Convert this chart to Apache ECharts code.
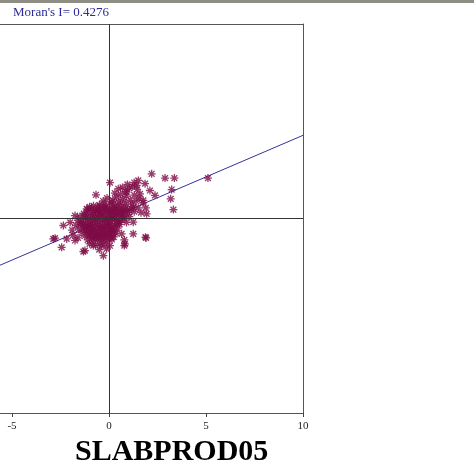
<!DOCTYPE html>
<html>
<head>
<meta charset="utf-8">
<script src="https://cdn.jsdelivr.net/npm/echarts@6/dist/echarts.min.js"></script>
<style>html,body{margin:0;padding:0;background:#fff}#c{width:474px;height:474px}</style>
</head>
<body>
<div id="c"></div>
<script>
// ---- data ----
var moransI = 0.4276;
var variableName = 'SLABPROD05';
var xTicks = [-5, 0, 5, 10];
var xVisibleMin = -5.618;   // left edge of the cropped plot
var xMax = 10;
var yRange = [-10, 10];
var regressionX = [-10, 10];
var corePoints = [
  [-0.3,0.9],[0.2,0.95],[0.5,0.85],[0.7,1.0],[-0.1,1.05],[0.4,1.1],[0.9,1.15],[1.1,0.95],
  [-0.8,0.65],[-0.5,0.7],[-0.2,0.75],[0.1,0.7],[0.35,0.65],[0.6,0.72],[0.85,0.8],[1.2,0.75],[1.4,0.9],
  [-1.1,0.45],[-0.9,0.5],[-0.6,0.55],[-0.35,0.5],[-0.1,0.45],[0.15,0.5],[0.4,0.48],[0.65,0.55],[0.9,0.6],[1.15,0.5],[1.5,0.55],
  [-1.3,0.25],[-1.05,0.3],[-0.8,0.32],[-0.55,0.28],[-0.3,0.35],[-0.05,0.3],[0.2,0.25],[0.45,0.3],[0.7,0.35],[1.0,0.3],[1.3,0.35],
  [-1.5,0.1],[-1.2,0.05],[-0.95,0.12],[-0.7,0.08],[-0.45,0.15],[-0.2,0.1],[0.05,0.05],[0.3,0.12],[0.55,0.08],[0.8,0.15],[1.05,0.1],
  [-1.6,-0.1],[-1.35,-0.15],[-1.1,-0.05],[-0.85,-0.12],[-0.6,-0.08],[-0.35,-0.15],[-0.1,-0.1],[0.15,-0.05],[0.4,-0.12],[0.65,-0.08],[0.9,-0.2],
  [-1.7,-0.35],[-1.45,-0.3],[-1.2,-0.28],[-0.95,-0.32],[-0.7,-0.25],[-0.45,-0.35],[-0.2,-0.3],[0.05,-0.28],[0.3,-0.35],[0.55,-0.3],
  [-1.55,-0.55],[-1.3,-0.5],[-1.05,-0.48],[-0.8,-0.55],[-0.55,-0.5],[-0.3,-0.52],[-0.05,-0.45],[0.2,-0.55],[0.45,-0.5],
  [-1.4,-0.72],[-1.15,-0.7],[-0.9,-0.68],[-0.65,-0.75],[-0.4,-0.7],[-0.15,-0.72],[0.1,-0.68],[0.35,-0.75],
  [-1.25,-0.9],[-1.0,-0.88],[-0.75,-0.95],[-0.5,-0.9],[-0.25,-0.92],[0.0,-0.88],[0.25,-0.95],
  [-1.1,-1.1],[-0.85,-1.12],[-0.6,-1.05],[-0.35,-1.1],[-0.1,-1.15],[0.15,-1.08],
  [-1.0,-1.3],[-0.7,-1.35],[-0.45,-1.28],[-0.2,-1.32],[0.05,-1.4]
];
var denseCorePoints = [
  [-1.0,0.6],[-0.7,0.4],[-0.45,0.62],[-0.15,0.6],[0.1,0.38],[0.3,0.58],[0.55,0.4],[0.78,0.45],
  [-1.25,0.18],[-0.85,0.2],[-0.6,0.42],[-0.3,0.22],[0.0,0.2],[0.25,0.38],[0.5,0.2],[0.72,0.22],[0.95,0.42],
  [-1.45,-0.2],[-1.0,-0.2],[-0.75,-0.02],[-0.5,0.0],[-0.25,-0.02],[0.02,-0.18],[0.28,0.0],[0.5,-0.2],[0.78,0.0],
  [-1.3,-0.4],[-1.1,-0.38],[-0.85,-0.42],[-0.6,-0.38],[-0.35,-0.42],[-0.1,-0.38],[0.15,-0.42],[0.4,-0.25],
  [-1.2,-0.6],[-0.95,-0.6],[-0.7,-0.62],[-0.45,-0.6],[-0.2,-0.6],[0.05,-0.58],[0.3,-0.62],
  [-1.05,-0.8],[-0.8,-0.82],[-0.55,-0.8],[-0.3,-0.8],[-0.05,-0.8],[0.2,-0.82],
  [-0.9,-1.0],[-0.65,-1.0],[-0.4,-1.0],[-0.15,-1.0],[0.1,-1.0],
  [-0.2,0.55],[0.15,0.85],[-0.5,0.3]
];
var edgePoints = [
  [0.3,1.3],[0.6,1.25],[0.85,1.4],[1.05,1.55],[1.3,1.2],[1.55,1.05],[1.75,0.8],[1.9,0.55],[1.65,0.3],
  [1.45,1.5],[1.2,1.65],[0.95,1.75],[0.7,1.6],[1.3,1.85],
  [1.51,1.96],[1.43,1.70],[1.86,1.79],[2.11,1.44],[1.60,1.27],[1.77,0.93],[1.25,0.58],[1.94,0.24],
  [1.25,-0.19],[1.25,-0.79],[1.88,-0.96],[0.65,-0.79],[0.82,-1.30],[0.79,-1.10],[0.79,-1.39],
  [0.05,1.84],[-0.67,1.22],[0.48,1.53],[0.91,1.36],[-1.15,0.5],
  [-1.75,0.15],[-2.35,-0.36],[-2.78,-1.01],[-2.44,-1.48],[-2.18,-1.05],[-1.75,-1.13],
  [-1.32,-1.70],[-0.81,-1.39],[-0.29,-1.91],[-0.12,-1.56],[-1.24,-1.65],[-0.38,-1.39],
  [-1.9,-0.6],[-2.0,-0.2],[-1.85,-0.85],[-1.6,-1.0],[-0.5,-1.6]
];
var outlierPoints = [
  [5.10,2.08],[2.20,2.30],[2.89,2.08],[3.37,2.08],[3.23,1.49],[3.18,1.01],[3.32,0.46],
  [2.37,1.19],[1.91,-1.0],[-2.87,-1.05]
];

// ---- chart ----
var allPoints = corePoints.concat(denseCorePoints, edgePoints, outlierPoints);
var regLine = regressionX.map(function (x) { return [x, x * moransI]; });
var star = 'path://M42 0L58 0L58 100L42 100Z M0 42L100 42L100 58L0 58Z M8 20L20 8L92 80L80 92Z M80 8L92 20L20 92L8 80Z';
var serif = '"Liberation Serif","DejaVu Serif",serif';
var frameColor = '#555';

var chart = echarts.init(document.getElementById('c'), null, {renderer: 'canvas'});
chart.setOption({
  animation: false,
  backgroundColor: '#ffffff',
  graphic: [
    {type: 'rect', left: 0, top: 0, shape: {width: 474, height: 3}, style: {fill: '#8d8d84'}},
    {type: 'text', left: 13, top: 6, style: {text: "Moran's I= " + moransI.toFixed(4), fill: '#2b2b9a', font: '13px ' + serif}}
  ],
  title: {
    text: variableName, left: 70, top: 432,
    textStyle: {fontFamily: serif, fontWeight: 'bold', fontSize: 30, color: '#000'}
  },
  grid: {left: 0, right: 171, top: 24, bottom: 61, show: false},
  xAxis: [{
    type: 'value', min: xVisibleMin, max: xMax,
    axisLine: {show: true, onZero: false, lineStyle: {color: frameColor}},
    axisTick: {show: true, length: 4, customValues: xTicks, lineStyle: {color: '#444'}},
    axisLabel: {color: '#222', fontFamily: serif, fontSize: 11, margin: 8, customValues: xTicks},
    splitLine: {show: false}
  }, {
    type: 'value', position: 'top', min: xVisibleMin, max: xMax,
    axisLine: {show: true, onZero: false, lineStyle: {color: frameColor}},
    axisTick: {show: false}, axisLabel: {show: false}, splitLine: {show: false}
  }],
  yAxis: {
    type: 'value', position: 'right', min: yRange[0], max: yRange[1], interval: 5,
    axisLine: {show: true, onZero: false, lineStyle: {color: frameColor}},
    axisTick: {show: false}, axisLabel: {show: false}, splitLine: {show: false}
  },
  series: [
    {
      type: 'line', data: [], symbol: 'none', z: 1,
      markLine: {
        silent: true, symbol: 'none', label: {show: false},
        lineStyle: {color: '#333', type: 'solid', width: 1},
        data: [{xAxis: 0}, {yAxis: 0}]
      }
    },
    {
      type: 'line', data: regLine, symbol: 'none', z: 2, clip: true,
      lineStyle: {color: '#33339a', width: 1}
    },
    {
      type: 'scatter', data: allPoints, symbol: star, symbolSize: 8, z: 3,
      itemStyle: {color: '#7d0a45'}
    }
  ]
});
</script>
</body>
</html>
